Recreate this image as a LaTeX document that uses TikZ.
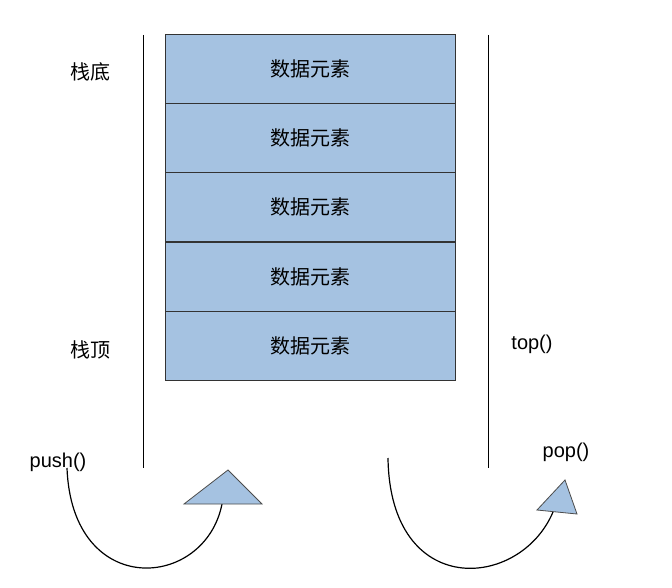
\documentclass[tikz,border=0pt]{standalone}
\usepackage{fontspec}
\setmainfont{Liberation Sans}
\newfontfamily\cjk{Noto Sans CJK SC}
\begin{document}
\begin{tikzpicture}[x=1pt,y=-1pt,
  cell/.style={draw=black!80,fill={rgb,255:red,165;green,194;blue,225},minimum width=290pt,minimum height=69pt,inner sep=0,font=\cjk\fontsize{20}{20}\selectfont,line width=0.8pt},
  lbl/.style={font=\fontsize{20}{20}\selectfont},
  clbl/.style={font=\cjk\fontsize{20}{20}\selectfont},
  tri/.style={draw=black!70,fill={rgb,255:red,165;green,194;blue,225},line width=0.8pt},
  arc/.style={line width=1.2pt}]
\useasboundingbox (0,0) rectangle (672,588);
\draw[line width=0.8pt] (143,35) -- (143,468);
\draw[line width=0.8pt] (488,35) -- (488,468);
\foreach \i/\y in {1/69,2/138,3/207,4/277,5/346}
  \node[cell] (c\i) at (310,\y) {数据元素};
\node[clbl] (bot) at (90,72) {栈底};
\node[clbl] (topl) at (90,350) {栈顶};
\node[lbl] (top) at (532,344) {top()};
\node[lbl] (push) at (58,462) {push()};
\node[lbl] (pop) at (566,452) {pop()};
\coordinate (p1) at (67,468);
\coordinate (p2) at (222,504);
\coordinate (q1) at (388,458);
\coordinate (q2) at (553,512);
\draw[arc] (p1) .. controls (72,600) and (205,590) .. (p2);
\draw[arc] (q1) .. controls (390,600) and (520,590) .. (q2);
\draw[tri] (184,504) -- (262,504) -- (228,470) -- cycle;
\draw[tri] (537,510) -- (577,514) -- (565,480) -- cycle;
\end{tikzpicture}
\end{document}
